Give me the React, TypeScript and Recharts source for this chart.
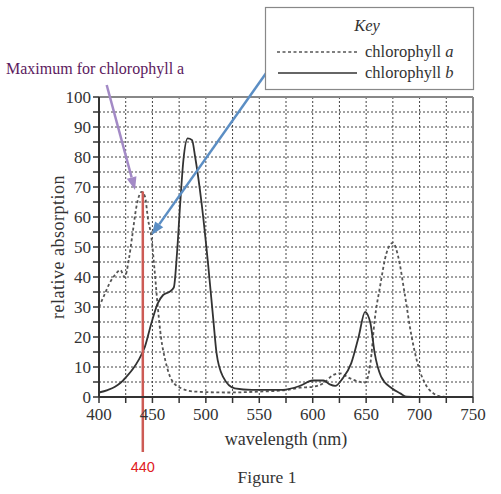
import { LineChart, Line, XAxis, YAxis, CartesianGrid, ReferenceLine } from 'recharts';

// chlorophyll a (dashed)
const wavelengthA = [400, 405, 410, 415, 420, 424, 428, 431, 435, 438, 440, 443, 446, 449, 452, 455, 458, 462, 468, 477, 490, 520, 550, 575, 588, 600, 610, 619, 625, 635, 643, 649, 654, 658, 663, 669, 675, 680, 686, 692, 699, 705, 713, 722, 735, 750];
const absorptionA = [30, 34, 38, 40.7, 42.3, 40, 46, 53.4, 63.4, 67.5, 68.4, 66.8, 59, 53.4, 42.3, 30, 20, 12.3, 5.7, 2.9, 1.8, 1.5, 1.8, 2.3, 3.1, 3.4, 4.6, 7.3, 7.9, 6.2, 5.1, 4.8, 11.2, 25.7, 36.8, 47.9, 51.4, 46.8, 34.6, 21.2, 10.1, 4.6, 1.2, 0.1, 0, 0];

// chlorophyll b (solid)
const wavelengthB = [400, 408, 415, 421, 427, 432, 437, 443, 449, 455, 460, 466, 470, 473, 476, 479, 483, 487, 490, 496, 502, 507, 510, 516, 527, 543, 572, 588, 600, 610, 616, 621, 628, 636, 643, 649, 654, 658, 664, 674, 682, 688, 700, 750];
const absorptionB = [1.5, 2.3, 3.4, 5, 7.3, 9.5, 12.3, 16.8, 24.6, 31.2, 34, 35.1, 36.5, 47.9, 64.6, 79, 86.2, 85.7, 80, 64.6, 44.6, 25.7, 14.6, 6.8, 2.9, 2.4, 2.4, 3.7, 5.5, 5.5, 4.2, 3.7, 6.2, 11.2, 20.1, 28.4, 24.6, 14.6, 6.8, 2.9, 1.2, 0.1, 0, 0];

const xTicks = [400, 425, 450, 475, 500, 525, 550, 575, 600, 625, 650, 675, 700, 725, 750];
const yTicks = [0, 5, 10, 15, 20, 25, 30, 35, 40, 45, 50, 55, 60, 65, 70, 75, 80, 85, 90, 95, 100];

const seriesA = wavelengthA.map((wl, i) => ({ wl, value: absorptionA[i] }));
const seriesB = wavelengthB.map((wl, i) => ({ wl, value: absorptionB[i] }));

const serif = 'Liberation Serif, Times New Roman, serif';
const tickStyle = { fill: '#333', fontSize: 17, fontFamily: serif };

function arrowShape(color: string) {
  return (props: any) => {
    const { x1, y1, x2, y2 } = props;
    const ang = Math.atan2(y2 - y1, x2 - x1);
    const len = 13;
    const half = 5;
    const bx = x2 - len * Math.cos(ang);
    const by = y2 - len * Math.sin(ang);
    const px = half * Math.sin(ang);
    const py = half * Math.cos(ang);
    return (
      <g>
        <line x1={x1} y1={y1} x2={bx} y2={by} stroke={color} strokeWidth={2.5} />
        <polygon points={`${x2},${y2} ${bx + px},${by - py} ${bx - px},${by + py}`} fill={color} />
      </g>
    );
  };
}

function markerLine(props: any) {
  const { x1, y1, x2, y2 } = props;
  const bottom = Math.max(y1, y2);
  return (
    <g>
      <line x1={x1} y1={y1} x2={x2} y2={y2} stroke="#cd5b55" strokeWidth={2.5} />
      <text x={x1} y={bottom + 20} textAnchor="middle" fill="#e0201e" fontSize={14.5} fontFamily="Liberation Sans, Arial, sans-serif">
        440
      </text>
    </g>
  );
}

export default function App() {
  return (
    <div style={{ position: 'absolute', left: 0, top: 0, width: 501, height: 494, background: '#fff' }}>
      <LineChart width={501} height={494} margin={{ top: 97, right: 28, left: 0, bottom: 47 }}>
        <CartesianGrid stroke="#444" strokeDasharray="2 2" strokeWidth={1} />
        <XAxis
          dataKey="wl"
          type="number"
          domain={[400, 750]}
          ticks={xTicks}
          interval={0}
          tickFormatter={(v: number) => (v % 50 === 0 ? String(v) : '')}
          tick={tickStyle}
          tickSize={6}
          tickMargin={5}
          tickLine={{ stroke: '#333', strokeWidth: 1.5 }}
          axisLine={{ stroke: '#333', strokeWidth: 2 }}
          height={50}
          label={{ value: 'wavelength (nm)', position: 'insideBottom', offset: 2, fill: '#333', fontSize: 18, fontFamily: serif }}
        />
        <YAxis
          type="number"
          domain={[0, 100]}
          ticks={yTicks}
          interval={0}
          tickFormatter={(v: number) => (v % 10 === 0 ? String(v) : '')}
          tick={tickStyle}
          tickSize={6}
          tickLine={{ stroke: '#333', strokeWidth: 1.5 }}
          axisLine={{ stroke: '#333', strokeWidth: 2 }}
          width={99}
          label={{ value: 'relative absorption', angle: -90, position: 'center', dx: 8, fill: '#333', fontSize: 18, fontFamily: serif, letterSpacing: 0.5 }}
        />
        <ReferenceLine y={100} stroke="#888" strokeWidth={2} />
        <ReferenceLine x={750} stroke="#888" strokeWidth={2} />
        <Line
          data={seriesA}
          dataKey="value"
          type="monotone"
          stroke="#555"
          strokeWidth={1.8}
          strokeDasharray="3 2.5"
          dot={false}
          isAnimationActive={false}
        />
        <Line
          data={seriesB}
          dataKey="value"
          type="monotone"
          stroke="#333"
          strokeWidth={1.8}
          dot={false}
          isAnimationActive={false}
        />
        <ReferenceLine
          segment={[{ x: 441, y: 68.5 }, { x: 441, y: -18.3 }]}
          ifOverflow="visible"
          shape={markerLine}
        />
        <ReferenceLine
          segment={[{ x: 407.2, y: 104 }, { x: 433.7, y: 69 }]}
          ifOverflow="visible"
          shape={arrowShape('#a38ac6')}
        />
        <ReferenceLine
          segment={[{ x: 566.2, y: 112.9 }, { x: 449.3, y: 54 }]}
          ifOverflow="visible"
          shape={arrowShape('#5b8ec4')}
        />
      </LineChart>
      <svg width={501} height={494} style={{ position: 'absolute', left: 0, top: 0, pointerEvents: 'none' }}>
        <text x={6} y={74} fill="#5c1a5e" fontSize={16} fontFamily={serif}>
          Maximum for chlorophyll a
        </text>
        <rect x={265.5} y={7.5} width={208} height={82} fill="#fff" stroke="#888" strokeWidth={1.2} />
        <text x={367} y={31} textAnchor="middle" fill="#333" fontSize={16.5} fontStyle="italic" fontFamily={serif}>
          Key
        </text>
        <line x1={277} y1={52} x2={357} y2={52} stroke="#555" strokeWidth={1.4} strokeDasharray="3 2.5" />
        <text x={365} y={57} fill="#333" fontSize={16.5} fontFamily={serif}>
          chlorophyll <tspan fontStyle="italic">a</tspan>
        </text>
        <line x1={278} y1={73} x2={357} y2={73} stroke="#333" strokeWidth={1.4} />
        <text x={365} y={78} fill="#333" fontSize={16.5} fontFamily={serif}>
          chlorophyll <tspan fontStyle="italic">b</tspan>
        </text>
        <text x={267} y={483} textAnchor="middle" fill="#333" fontSize={17.5} fontFamily={serif}>
          Figure 1
        </text>
      </svg>
    </div>
  );
}
